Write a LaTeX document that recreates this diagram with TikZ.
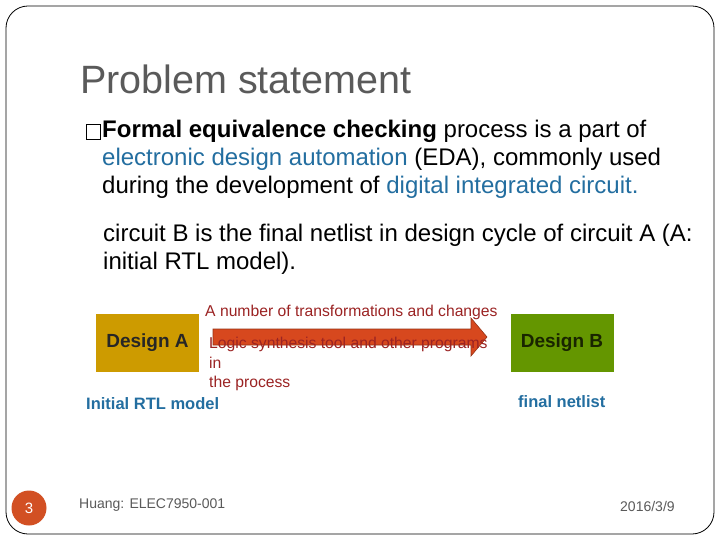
\documentclass[tikz,border=0pt]{standalone}
\usepackage{fontspec}
\setmainfont{Liberation Sans}
\definecolor{lnk}{RGB}{35,110,160}
\definecolor{ttl}{RGB}{90,90,90}
\definecolor{dred}{RGB}{155,35,35}
\definecolor{da}{RGB}{205,155,0}
\definecolor{db}{RGB}{100,150,0}
\definecolor{arr}{RGB}{215,72,30}
\definecolor{circ}{RGB}{210,80,35}
\begin{document}
\begin{tikzpicture}[x=1pt,y=-1pt,
  txt/.style={anchor=base west,inner sep=0pt,font=\fontsize{24}{28}\selectfont},
  small/.style={anchor=base west,inner sep=0pt,font=\fontsize{15.7}{19.5}\selectfont,text=dred},
  dbox/.style={minimum width=103pt,minimum height=58pt,inner sep=0pt,font=\bfseries\fontsize{19}{22}\selectfont}]
\useasboundingbox (0,0) rectangle (720,540);
\fill[white] (0,0) rectangle (720,540);
\draw[rounded corners=22pt,line width=0.8pt] (6,6) rectangle (714,534);
\node[anchor=base west,inner sep=0pt,text=ttl,font=\fontsize{39.5}{44}\selectfont] (title) at (80,94) {Problem statement};
\draw[line width=0.8pt] (86,124) rectangle (100,139);
\node[txt] (l1) at (102,138) {\textbf{Formal equivalence checking} process is a part of};
\node[txt,text=lnk] (l2) at (102,166) {electronic design automation \textcolor{black}{(EDA), commonly used}};
\node[txt] (l3) at (102,194) {during the development of \textcolor{lnk}{digital integrated circuit.}};
\node[txt] (l4) at (103,241) {circuit B is the final netlist in design cycle of circuit A (A:};
\node[txt] (l5) at (103,269) {initial RTL model).};
\node[dbox,fill=da,text=black!85] (A) at (147.5,343) {Design A};
\node[dbox,fill=db,text=black!75!db] (B) at (562,342.5) {Design B};
\node[small] (t1) at (205,316) {A number of transformations and changes};
\fill[arr,draw=arr!70!black,line width=0.6pt] (213,329) -- (471,329) -- (471,318) -- (487,337) -- (471,356) -- (471,345) -- (213,345) -- cycle;
\node[small,align=left,anchor=north west] (t2) at (209,337) {Logic synthesis tool and other programs\\in\\the process};
\node[anchor=base west,inner sep=0pt,text=lnk,font=\bfseries\fontsize{16.5}{19}\selectfont] (ia) at (86,409) {Initial RTL model};
\node[anchor=base west,inner sep=0pt,text=lnk,font=\bfseries\fontsize{16.5}{19}\selectfont] (fb) at (518,407) {final netlist};
\node[circle,fill=circ,minimum size=35pt,inner sep=0pt,text=white,font=\fontsize{15}{17}\selectfont] (pg) at (29,508) {3};
\node[anchor=base west,inner sep=0pt,text=ttl,font=\fontsize{14}{16}\selectfont] (ft) at (79,508) {Huang: ELEC7950-001};
\node[anchor=base west,inner sep=0pt,text=ttl,font=\fontsize{14}{16}\selectfont] (dt) at (620,511) {2016/3/9};
\end{tikzpicture}
\end{document}
